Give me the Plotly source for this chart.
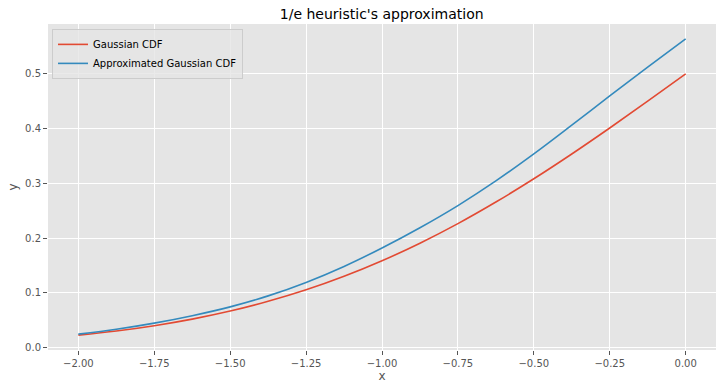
import plotly.graph_objects as go

# x positions (step 0.125 from -2 to 0)
x_vals = [-2.0, -1.875, -1.75, -1.625, -1.5, -1.375, -1.25, -1.125, -1.0,
          -0.875, -0.75, -0.625, -0.5, -0.375, -0.25, -0.125, 0.0]

gaussian_cdf = [0.0228, 0.0304, 0.0401, 0.0521, 0.0668, 0.0846, 0.1056, 0.1303, 0.1587,
                0.1908, 0.2266, 0.2660, 0.3085, 0.3538, 0.4013, 0.4503, 0.5000]

approx_cdf = [0.0247, 0.0336, 0.0448, 0.0584, 0.0745, 0.0946, 0.1192, 0.1484, 0.1821,
              0.2191, 0.2596, 0.3046, 0.3540, 0.4065, 0.4600, 0.5125, 0.5640]

x_ticks = [-2.0, -1.75, -1.5, -1.25, -1.0, -0.75, -0.5, -0.25, 0.0]
x_tick_labels = ["\u22122.00", "\u22121.75", "\u22121.50", "\u22121.25", "\u22121.00",
                 "\u22120.75", "\u22120.50", "\u22120.25", "0.00"]
y_ticks = [0.0, 0.1, 0.2, 0.3, 0.4, 0.5]
y_tick_labels = ["0.0", "0.1", "0.2", "0.3", "0.4", "0.5"]

font_family = "DejaVu Sans"

fig = go.Figure()
fig.add_trace(go.Scatter(x=x_vals, y=gaussian_cdf, mode="lines", name="Gaussian CDF",
                         line=dict(color="#E24A33", width=1.6, shape="spline")))
fig.add_trace(go.Scatter(x=x_vals, y=approx_cdf, mode="lines", name="Approximated Gaussian CDF",
                         line=dict(color="#348ABD", width=1.6, shape="spline")))

fig.update_layout(
    width=727, height=391,
    margin=dict(l=48, r=11, t=24, b=41),
    paper_bgcolor="white",
    plot_bgcolor="#E5E5E5",
    font=dict(family=font_family, size=10, color="#555555"),
    title=dict(text="1/e heuristic's approximation", x=0.525, xanchor="center",
               y=0.965, yanchor="middle",
               font=dict(family=font_family, size=14, color="black")),
    showlegend=True,
    legend=dict(x=0.006, y=0.985, xanchor="left", yanchor="top",
                bgcolor="rgba(229,229,229,0.8)", bordercolor="#CCCCCC", borderwidth=1,
                font=dict(family=font_family, size=10, color="black"),
                tracegroupgap=0, itemwidth=30),
)

fig.update_xaxes(range=[-2.1, 0.1], tickvals=x_ticks, ticktext=x_tick_labels,
                 automargin=False,
                 showgrid=True, gridcolor="white", gridwidth=1, zeroline=False,
                 ticks="outside", ticklen=4, tickcolor="#555555", showline=False,
                 title=dict(text="x", font=dict(family=font_family, size=12, color="#555555"),
                            standoff=2),
                 tickfont=dict(family=font_family, size=10, color="#555555"))
fig.update_yaxes(range=[-0.0043, 0.5913], tickvals=y_ticks, ticktext=y_tick_labels,
                 automargin=False,
                 showgrid=True, gridcolor="white", gridwidth=1, zeroline=False,
                 ticks="outside", ticklen=4, tickcolor="#555555", showline=False,
                 title=dict(text="y", font=dict(family=font_family, size=12, color="#555555"),
                            standoff=4),
                 tickfont=dict(family=font_family, size=10, color="#555555"))

fig.write_html("out.html",
               config={"displayModeBar": False},
               post_script="document.body.style.margin='0px';document.body.style.padding='0px';")
